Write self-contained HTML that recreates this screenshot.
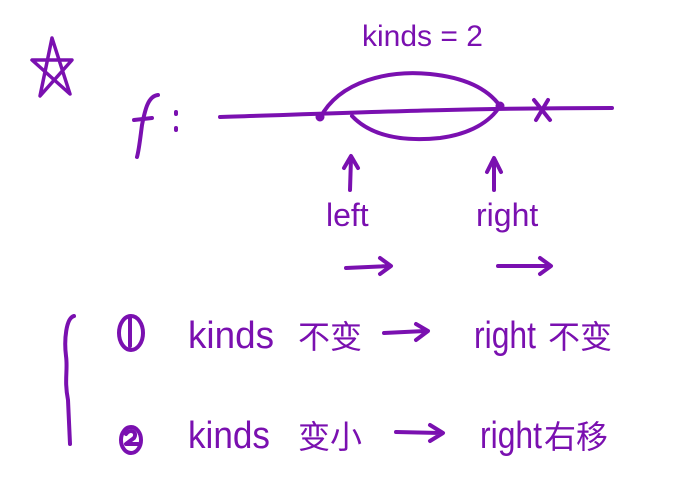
<!DOCTYPE html>
<html><head><meta charset="utf-8"><style>
html,body{margin:0;padding:0;background:#fff;}
svg{display:block}
text{font-family:"Liberation Sans","Noto Sans CJK SC",sans-serif;fill:#7a10b0;}
</style></head><body>
<svg width="677" height="484" viewBox="0 0 677 484" xmlns="http://www.w3.org/2000/svg">
<g fill="none" stroke="#7a10b0" stroke-width="4" stroke-linecap="round" stroke-linejoin="round">
<!-- star -->
<path d="M40 96 L52 38 L70 94 L32 60 L72 60 Z" stroke-width="3.5"/>
<!-- f: -->
<path d="M158 95 C148 96 145 110 142 125 C140 140 139 150 137 157"/>
<path d="M134 120 L152 118"/>
<path d="M176 112 L176 114 M176 128 L176 130"/>
<!-- line -->
<path d="M220 117 C320 114 450 108 612 108"/>
<!-- arcs -->
<path d="M320 118 C340 80 390 70 430 74 C470 78 490 92 500 106"/>
<path d="M352 116 C370 135 400 142 440 138 C470 134 490 122 500 106"/>
<circle cx="320" cy="117" r="2.5" fill="#7a10b0"/>
<circle cx="500" cy="106" r="2.5" fill="#7a10b0"/>
<!-- x -->
<path d="M534 100 L550 120 M548 100 L536 120"/>
<!-- up arrows -->
<path d="M350 190 L351 158 M344 168 L351 156 L358 168"/>
<path d="M494 190 L494 160 M487 172 L494 158 L501 172"/>
<!-- right arrows -->
<path d="M346 268 L390 266 M380 258 L391 266 L380 274"/>
<path d="M498 266 L550 266 M540 258 L551 266 L540 274"/>
<!-- brace -->
<path d="M74 316 C66 318 64 340 66 356 C68 370 64 380 68 400 L70 444"/>
<!-- 1 circle -->
<ellipse cx="131" cy="333" rx="12" ry="17"/>
<path d="M130 318 L130 346"/>
<!-- 2 circle -->
<ellipse cx="131" cy="440" rx="10" ry="13"/>
<path d="M126 434 C130 428 138 432 134 438 L126 444 L138 444"/>
<!-- arrows lower -->
<path d="M384 333 L425 331 M416 324 L428 331 L416 340"/>
<path d="M396 432 L440 433 M430 425 L443 433 L430 441"/>
</g>
<text x="362" y="46" font-size="30">kinds = 2</text>
<text x="326" y="226" font-size="32">left</text>
<text x="476" y="226" font-size="32">right</text>
<text x="188" y="348" font-size="38" textLength="86" lengthAdjust="spacingAndGlyphs">kinds</text>
<text x="298" y="348" font-size="32">不变</text>
<text x="474" y="348" font-size="38" textLength="62" lengthAdjust="spacingAndGlyphs">right</text>
<text x="548" y="348" font-size="32">不变</text>
<text x="188" y="448" font-size="38" textLength="82" lengthAdjust="spacingAndGlyphs">kinds</text>
<text x="298" y="448" font-size="32">变小</text>
<text x="480" y="448" font-size="38" textLength="62" lengthAdjust="spacingAndGlyphs">right</text>
<text x="544" y="448" font-size="32">右移</text>
</svg>
</body></html>
